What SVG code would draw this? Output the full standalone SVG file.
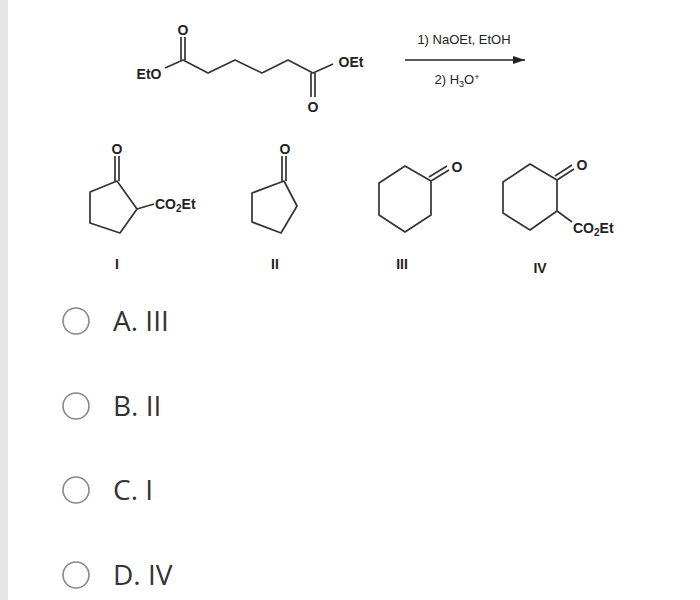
<svg xmlns="http://www.w3.org/2000/svg" width="700" height="600" viewBox="0 0 700 600">
<defs>
<style>
.b{fill:none;stroke:#333;stroke-width:1.7;stroke-linejoin:round}
.c{font-family:"Liberation Sans",Arial,sans-serif;font-size:14px;font-weight:bold;fill:#222}
.r{font-family:"Liberation Sans",Arial,sans-serif;font-size:13px;fill:#222}
.o{font-family:"Open Sans",sans-serif;font-size:28px;fill:#333}
.rad{fill:#fff;stroke:#888;stroke-width:1.6}
</style>
<marker id="ah" markerWidth="12" markerHeight="8" refX="12" refY="4" orient="auto" markerUnits="userSpaceOnUse"><path d="M0,0L12,4L0,8Z" fill="#222"/></marker>
</defs>
<rect width="700" height="600" fill="#fff"/>
<rect x="0" y="0" width="8" height="600" fill="#e6e6e6"/>
<g id="reactant">
<polyline class="b" points="165,68 183,60 208,73 235,60 262,73 288,60 313,73 333,64"/>
<line class="b" x1="181" y1="37" x2="181" y2="60"/><line class="b" x1="185" y1="37" x2="185" y2="60"/>
<line class="b" x1="311" y1="73" x2="311" y2="97"/><line class="b" x1="315" y1="73" x2="315" y2="97"/>
<text class="c" x="183" y="35" text-anchor="middle">O</text>
<text class="c" x="313" y="112" text-anchor="middle">O</text>
<text class="c" x="149" y="79" text-anchor="middle">EtO</text>
<text class="c" x="351" y="67" text-anchor="middle">OEt</text>
</g>
<g id="connectors">
<line x1="405" y1="60" x2="525" y2="60" stroke="#222" stroke-width="1.4" marker-end="url(#ah)"/>
</g>
<g id="conditions">
<text class="r" x="464" y="44" text-anchor="middle">1) NaOEt, EtOH</text>
<text class="r" x="457" y="84" text-anchor="middle">2) H<tspan font-size="9" dy="3">3</tspan><tspan dy="-3">O</tspan><tspan font-size="9" dy="-4">+</tspan></text>
</g>
<g id="I">
<polygon class="b" points="117,181 90,192 90,223 120,233 137,209"/>
<line class="b" x1="137" y1="209" x2="154" y2="204"/>
<line class="b" x1="115" y1="156" x2="115" y2="181"/><line class="b" x1="119" y1="156" x2="119" y2="181"/>
<text class="c" x="117" y="154" text-anchor="middle">O</text>
<text class="c" x="155" y="209">CO<tspan font-size="10" dy="3">2</tspan><tspan dy="-3">Et</tspan></text>
<text class="c" x="117" y="269" text-anchor="middle">I</text>
</g>
<g id="II">
<polygon class="b" points="284,181 252,193 252,222 281,233 297,206"/>
<line class="b" x1="282" y1="156" x2="282" y2="181"/><line class="b" x1="286" y1="156" x2="286" y2="181"/>
<text class="c" x="285" y="154" text-anchor="middle">O</text>
<text class="c" x="275" y="269" text-anchor="middle">II</text>
</g>
<g id="III">
<polygon class="b" points="405,166 431,181 431,215 405,232 379,215 379,183"/>
<line class="b" x1="431" y1="181" x2="449" y2="170"/><line class="b" x1="429" y1="177" x2="447" y2="166"/>
<text class="c" x="457" y="172" text-anchor="middle">O</text>
<text class="c" x="402" y="269" text-anchor="middle">III</text>
</g>
<g id="IV">
<polygon class="b" points="530,164 557,180 557,211 530,230 503,213 503,182"/>
<line class="b" x1="557" y1="180" x2="574" y2="169"/><line class="b" x1="555" y1="176" x2="572" y2="165"/>
<line class="b" x1="557" y1="211" x2="572" y2="222"/>
<text class="c" x="582" y="170" text-anchor="middle">O</text>
<text class="c" x="573" y="233">CO<tspan font-size="10" dy="3">2</tspan><tspan dy="-3">Et</tspan></text>
<text class="c" x="540" y="273" text-anchor="middle">IV</text>
</g>
<g id="options">
<circle class="rad" cx="76" cy="321" r="13"/><text class="o" x="113" y="331">A. III</text>
<circle class="rad" cx="76" cy="406" r="13"/><text class="o" x="113" y="416">B. II</text>
<circle class="rad" cx="76" cy="490" r="13"/><text class="o" x="113" y="500">C. I</text>
<circle class="rad" cx="76" cy="575" r="13"/><text class="o" x="113" y="585">D. IV</text>
</g>
</svg>
